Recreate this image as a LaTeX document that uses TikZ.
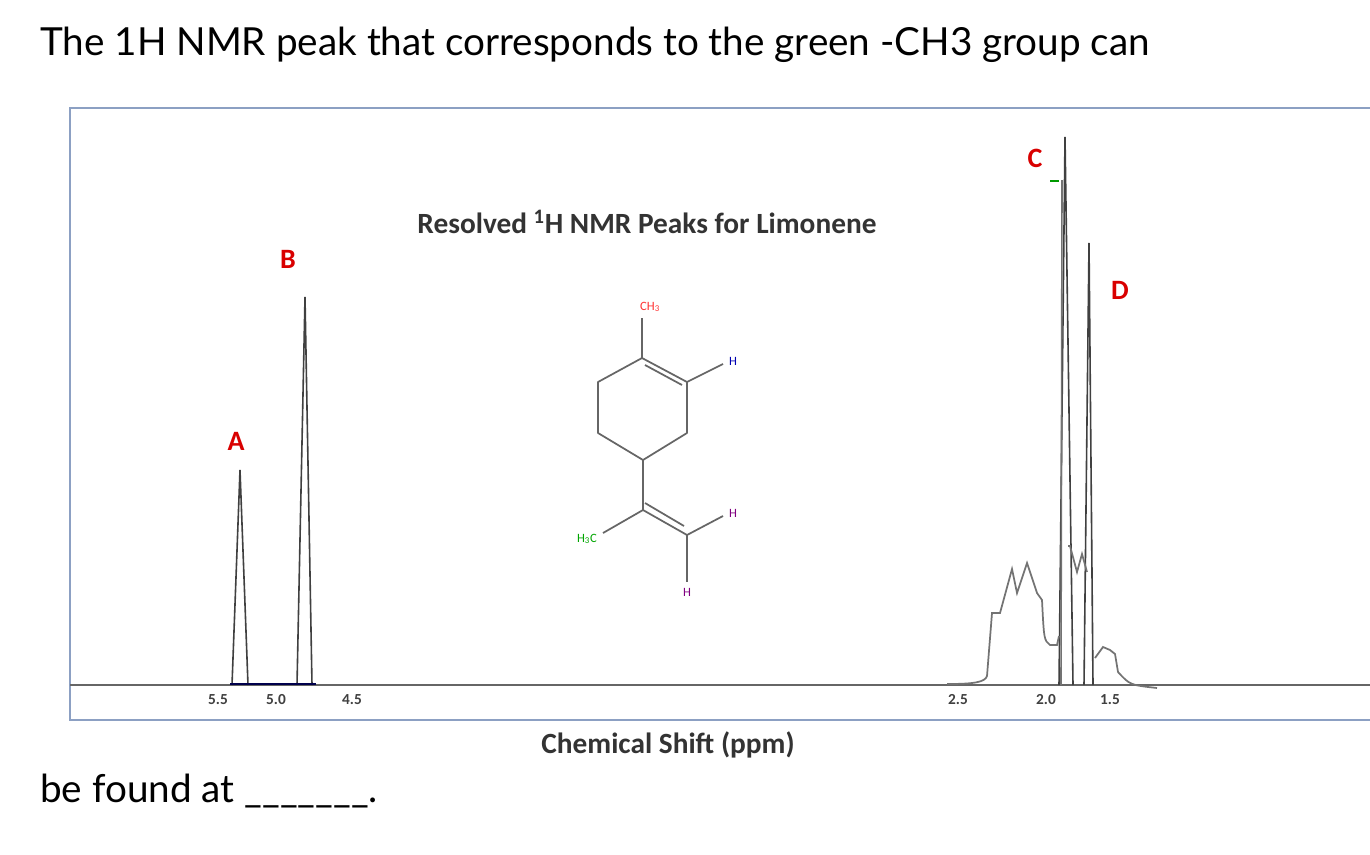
\documentclass[tikz,border=0pt]{standalone}
\usepackage{fontspec}
\setmainfont{Lato}
\newfontfamily\chartfont{Carlito}
\definecolor{frame}{RGB}{140,160,195}
\begin{document}
\begin{tikzpicture}[x=0.75pt,y=-0.75pt,
  lbl/.style={font=\chartfont\bfseries\fontsize{21}{23}\selectfont,text=red!85!black,inner sep=0},
  tick/.style={font=\chartfont\bfseries\fontsize{11.5}{13}\selectfont,text=black!75,inner sep=0},
  pk/.style={draw=black!75,line width=1.2pt,line join=miter},
  bond/.style={draw=black!60,line width=1.3pt},
  atom/.style={font=\chartfont\fontsize{9.5}{10}\selectfont,inner sep=0}]
\useasboundingbox (0,0) rectangle (1370,854);
\fill[white] (0,0) rectangle (1370,854);
\node[anchor=west,inner sep=0,font=\fontsize{29}{33}\selectfont] (title) at (40,45) {The 1H NMR peak that corresponds to the green -CH3 group can};
\node[anchor=west,inner sep=0,font=\fontsize{29}{33}\selectfont] (foot) at (40,791) {be found at \_\_\_\_\_\_\_.};
\draw[draw=frame,line width=2pt] (1372,108) -- (70,108) -- (70,720) -- (1372,720);
\draw[black!60,line width=1pt] (70,685) -- (1372,685);
% peaks A, B
\draw[pk] (232,685) -- (240,470) -- (248,685);
\draw[pk] (297,685) -- (305,297) -- (312,685);
\draw[black!70!blue,line width=2pt] (230,684) -- (316,684);
% C, D
\draw[pk] (1059,685) -- (1065,137) -- (1073,685);
\draw[pk,black!55] (1061,685) -- (1062,180);
\draw[green!60!black,line width=0.8pt] (1050,181) -- (1059,181);
\draw[pk] (1084,685) -- (1089,243) -- (1093,685);
\draw[black!55,line width=1.3pt] (947,684) .. controls (975,684) and (985,682) .. (987,676)
  -- (992,613) -- (1000,613) -- (1012,569) -- (1017,593) -- (1027,563) -- (1037,593) -- (1042,600)
  .. controls (1044,640) .. (1050,645) -- (1057,645) -- (1059,636);
\draw[black!55,line width=1.3pt] (1068,546) -- (1070,546) -- (1077,572) -- (1082,554) -- (1087,572);
\draw[black!55,line width=1.3pt] (1095,658) -- (1103,647) -- (1110,650) -- (1115,654) -- (1118,672)
  .. controls (1130,685) .. (1157,688);
% labels
\node[lbl] (A) at (236,441) {A};
\node[lbl] (B) at (288,259) {B};
\node[lbl] (C) at (1035,158) {C};
\node[lbl] (D) at (1120,290) {D};
\node[tick] (t55) at (218,700) {5.5};
\node[tick] (t50) at (276,700) {5.0};
\node[tick] (t45) at (352,700) {4.5};
\node[tick] (t25) at (958,700) {2.5};
\node[tick] (t20) at (1046,700) {2.0};
\node[tick] (t15) at (1110,700) {1.5};
\node[font=\chartfont\bfseries\fontsize{22}{24}\selectfont,text=black!80,inner sep=0] (ct) at (647,222) {Resolved \textsuperscript{1}H NMR Peaks for Limonene};
\node[font=\chartfont\bfseries\fontsize{22}{24}\selectfont,text=black!80,inner sep=0] (xl) at (668,745) {Chemical Shift (ppm)};
% molecule
\coordinate (c1) at (642,358); \coordinate (c2) at (687,382); \coordinate (c3) at (687,433);
\coordinate (c4) at (643,460); \coordinate (c5) at (598,433); \coordinate (c6) at (598,382);
\coordinate (c7) at (643,510); \coordinate (c8) at (687,535);
\draw[bond,line join=round] (c1) -- (c2) -- (c3) -- (c4) -- (c5) -- (c6) -- cycle;
\draw[bond] (645,365) -- (682,385);
\node[atom,text=red!80] (me1) at (650,307) {CH\textsubscript{3}};
\draw[bond] (c1) -- (642,318);
\node[atom,text=blue!70!black] (h1) at (733,361) {H};
\draw[bond] (c2) -- (723,364);
\draw[bond] (c4) -- (c7);
\draw[bond] (c7) -- (c8);
\draw[bond] (645,503) -- (684,526);
\node[atom,text=green!65!black] (me2) at (587,539) {H\textsubscript{3}C};
\draw[bond] (c7) -- (603,533);
\node[atom,text=violet] (h2) at (733,513) {H};
\draw[bond] (c8) -- (723,516);
\node[atom,text=violet] (h3) at (687,592) {H};
\draw[bond] (c8) -- (687,582);
\end{tikzpicture}
\end{document}
